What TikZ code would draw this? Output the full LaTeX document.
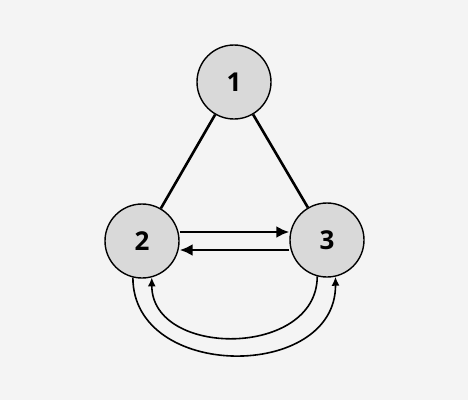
\documentclass[tikz,border=0pt]{standalone}
\usepackage{fontspec}
\newfontfamily\numfont{Open Sans}[BoldFont={* Bold}]
\usetikzlibrary{arrows.meta}
\definecolor{bg}{HTML}{F4F4F4}
\definecolor{nodefill}{HTML}{D9D9D9}
\begin{document}
\begin{tikzpicture}[x=1pt,y=-1pt,
  vert/.style={circle,draw=black,line width=1.4pt,fill=nodefill,minimum size=74pt,inner sep=0pt,font=\numfont\fontsize{26}{30}\selectfont\bfseries},
  thick edge/.style={line width=2.6pt},
  thin edge/.style={line width=1.6pt},
  bigtip/.style={-{Latex[length=13pt,width=12pt]}},
  smalltip/.style={-{Latex[length=9pt,width=8pt]}}]
\fill[bg] (0,0) rectangle (468,400);
\useasboundingbox (0,0) rectangle (468,400);
\node[vert] (n1) at (234,82) {1};
\node[vert] (n2) at (142,241) {2};
\node[vert] (n3) at (327,240) {3};
\draw[thick edge] (n1) -- (n2);
\draw[thick edge] (n1) -- (n3);
\draw[thick edge,bigtip] (n2.east |- 0,232) coordinate (a) -- (a -| n3.west);
\draw[thick edge,bigtip] (n3.west |- 0,250) coordinate (b) -- (b -| n2.east);
\draw[thin edge,smalltip] (n2.256) .. controls (133,381) and (336,381) .. (n3.283);
\draw[thin edge,smalltip] (n3.255) .. controls (317,358) and (152,358) .. (n2.285);
\end{tikzpicture}
\end{document}
